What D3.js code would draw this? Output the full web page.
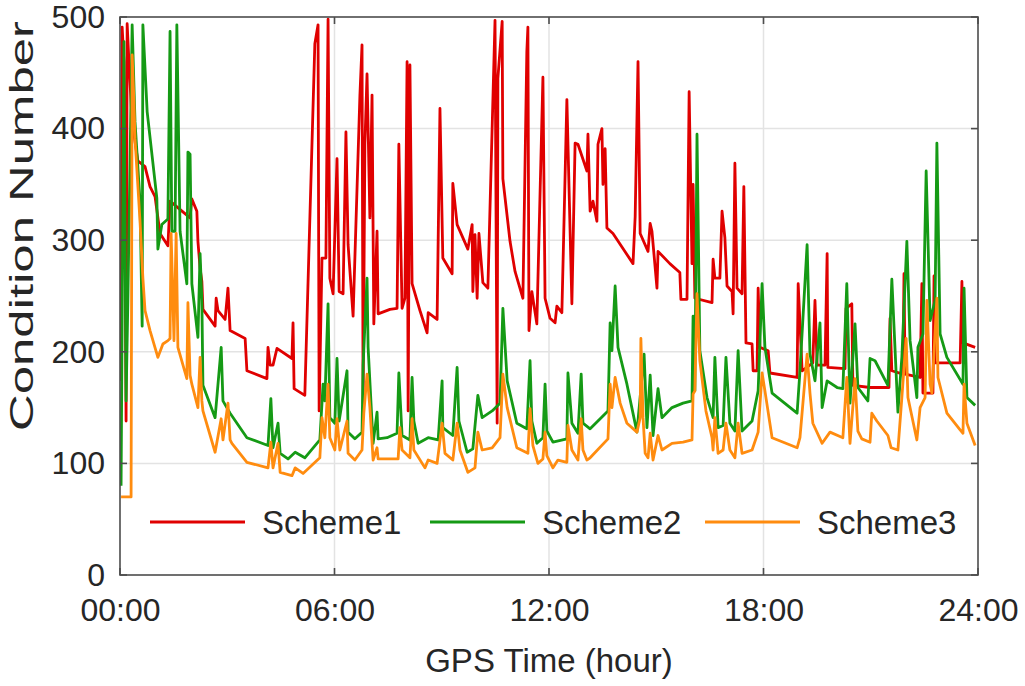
<!DOCTYPE html>
<html>
<head>
<meta charset="utf-8">
<script src="https://cdn.jsdelivr.net/npm/d3@7"></script>
<style>
  body { margin: 0; background: #fff; }
  svg text { font-family: "Liberation Sans", Arial, Helvetica, sans-serif; fill: #262626; }
</style>
</head>
<body>
<div id="chart"></div>
<script>
(function () {

    // series: [hour, condition number]
    var scheme1 = [
        [0.03,174],[0.06,491],[0.11,460],[0.17,138],[0.20,494],[0.25,460],[0.34,406],[0.50,371],[0.70,366],
        [0.84,348],[0.98,339],[1.12,306],[1.34,295],[1.40,335],[1.96,320],[2.01,337],[2.15,326],[2.18,299],
        [2.24,275],[2.29,263],[2.32,238],[2.66,223],[2.69,248],[2.74,237],[2.94,229],[2.99,246],[3.02,257],
        [3.08,219],[3.50,212],[3.55,183],[4.11,176],[4.14,204],[4.20,188],[4.28,188],[4.39,203],[4.81,194],
        [4.84,226],[4.87,167],[5.17,161],[5.45,476],[5.54,493],[5.57,147],[5.65,284],[5.76,284],[5.82,498],
        [5.87,266],[5.96,252],[6.07,373],[6.13,254],[6.24,252],[6.32,397],[6.38,296],[6.52,232],[6.71,429],
        [6.77,475],[6.80,154],[6.85,386],[6.91,449],[6.99,320],[7.05,430],[7.10,225],[7.19,308],[7.22,234],
        [7.55,238],[7.75,239],[7.80,386],[7.89,239],[7.97,248],[8.03,460],[8.06,147],[8.11,457],[8.17,261],
        [8.39,237],[8.59,217],[8.62,235],[8.87,229],[8.95,418],[9.03,284],[9.29,270],[9.31,351],[9.43,314],
        [9.73,292],[9.85,314],[9.87,254],[9.93,305],[9.99,248],[10.04,306],[10.15,262],[10.29,257],[10.49,497],
        [10.55,136],[10.57,445],[10.69,496],[10.71,355],[10.91,299],[11.05,272],[11.27,248],[11.38,469],
        [11.41,491],[11.44,219],[11.52,254],[11.66,225],[11.83,446],[11.89,248],[12.03,230],[12.17,226],
        [12.22,241],[12.36,235],[12.50,426],[12.64,243],[12.73,387],[12.81,386],[13.06,362],[13.09,395],
        [13.15,326],[13.23,335],[13.34,317],[13.37,386],[13.48,400],[13.51,350],[13.57,382],[13.62,311],
        [13.79,306],[14.35,279],[14.41,321],[14.49,460],[14.55,306],[14.77,290],[14.83,315],[14.88,308],
        [15.02,257],[15.05,290],[15.38,279],[15.66,271],[15.69,247],[15.86,247],[15.92,433],[16.00,279],
        [16.03,350],[16.08,248],[16.56,244],[16.59,283],[16.64,266],[16.78,266],[16.84,326],[16.92,302],
        [16.98,259],[17.12,254],[17.15,234],[17.20,369],[17.26,257],[17.40,252],[17.45,348],[17.51,208],
        [17.68,207],[17.71,183],[17.82,183],[17.85,257],[17.90,204],[18.13,201],[18.18,181],[18.94,177],
        [18.97,261],[19.08,183],[19.38,190],[19.44,246],[19.50,188],[19.72,188],[19.78,288],[19.80,186],
        [20.28,185],[20.31,239],[20.47,243],[20.50,170],[20.98,168],[21.51,168],[21.54,230],[21.59,183],
        [21.90,180],[21.93,270],[21.96,180],[22.38,177],[22.43,261],[22.46,163],[22.74,163],[22.77,268],
        [22.80,190],[23.50,190],[23.55,263],[23.58,208],[23.92,204]
    ];

    var scheme2 = [
        [0.03,80],[0.11,478],[0.17,156],[0.22,246],[0.34,493],[0.42,406],[0.56,335],[0.62,223],[0.64,493],
        [0.76,415],[1.03,338],[1.06,292],[1.17,314],[1.34,319],[1.40,487],[1.45,308],[1.54,308],[1.59,493],
        [1.68,308],[1.87,261],[1.90,379],[1.96,377],[2.01,261],[2.18,213],[2.24,288],[2.29,246],[2.32,170],
        [2.66,141],[2.83,204],[2.88,156],[3.08,145],[3.55,123],[4.14,116],[4.22,158],[4.28,114],[4.42,136],
        [4.48,109],[4.70,104],[4.90,110],[5.17,105],[5.59,121],[5.68,171],[5.73,156],[5.82,243],[5.87,141],
        [6.01,136],[6.07,194],[6.13,138],[6.35,183],[6.38,128],[6.57,122],[6.77,128],[6.80,188],[6.91,266],
        [6.94,204],[7.08,118],[7.19,146],[7.22,122],[7.47,123],[7.75,127],[7.80,181],[7.89,125],[8.11,121],
        [8.17,177],[8.22,138],[8.34,118],[8.62,123],[8.90,121],[9.01,174],[9.03,132],[9.31,125],[9.43,186],
        [9.48,138],[9.71,110],[9.87,113],[10.01,161],[10.13,141],[10.41,147],[10.63,154],[10.71,239],
        [10.83,174],[11.10,136],[11.38,131],[11.47,192],[11.52,138],[11.66,118],[11.83,123],[11.89,171],
        [11.94,129],[12.11,119],[12.50,122],[12.53,181],[12.64,136],[12.81,127],[12.90,180],[12.95,136],
        [13.15,131],[13.65,147],[13.71,226],[13.76,201],[13.85,259],[13.93,204],[14.18,171],[14.46,128],
        [14.66,198],[14.74,132],[14.83,179],[14.91,125],[15.05,167],[15.16,141],[15.44,150],[15.75,154],
        [16.00,156],[16.03,232],[16.08,165],[16.14,395],[16.22,201],[16.42,159],[16.59,141],[16.64,195],
        [16.73,132],[16.87,134],[16.95,195],[17.06,136],[17.20,129],[17.29,201],[17.40,129],[17.68,138],
        [17.85,165],[17.96,261],[18.04,204],[18.24,163],[18.94,145],[19.02,183],[19.22,296],[19.30,198],
        [19.44,174],[19.58,226],[19.64,150],[19.78,174],[20.06,168],[20.22,167],[20.33,261],[20.42,154],
        [20.56,225],[20.64,168],[20.92,156],[20.98,194],[21.12,192],[21.48,170],[21.59,265],[21.76,146],
        [21.87,195],[22.01,299],[22.10,210],[22.29,159],[22.32,204],[22.46,216],[22.55,362],[22.66,228],
        [22.80,246],[22.85,387],[22.94,216],[23.13,195],[23.58,171],[23.61,257],[23.69,159],[23.92,152]
    ];

    var scheme3 = [
        [0.03,70],[0.31,70],[0.34,466],[0.39,424],[0.42,391],[0.56,317],[0.64,266],[0.70,237],[0.84,219],
        [1.06,195],[1.20,207],[1.34,210],[1.40,212],[1.43,306],[1.51,210],[1.57,306],[1.62,204],[1.87,176],
        [1.90,244],[1.96,179],[2.01,171],[2.18,150],[2.24,195],[2.29,156],[2.32,147],[2.66,110],[2.83,140],
        [2.88,121],[3.02,154],[3.08,121],[3.13,118],[3.55,101],[4.14,96],[4.22,119],[4.28,96],[4.42,118],
        [4.48,92],[4.81,89],[4.90,96],[5.12,91],[5.59,105],[5.65,141],[5.73,123],[5.82,171],[5.87,123],
        [6.01,112],[6.07,140],[6.15,112],[6.35,138],[6.38,109],[6.57,103],[6.77,112],[6.82,145],[6.91,180],
        [6.99,150],[7.08,103],[7.19,114],[7.22,104],[7.78,104],[7.83,132],[7.89,112],[8.11,105],[8.17,140],
        [8.22,112],[8.53,96],[8.62,103],[8.87,100],[9.01,136],[9.09,109],[9.31,103],[9.43,136],[9.51,112],
        [9.73,92],[9.93,96],[10.01,128],[10.13,112],[10.41,114],[10.63,123],[10.71,180],[10.83,150],
        [11.10,114],[11.41,109],[11.47,149],[11.55,116],[11.69,100],[11.83,104],[11.89,128],[11.94,107],
        [12.11,96],[12.25,103],[12.50,101],[12.53,134],[12.64,112],[12.81,103],[12.90,140],[12.95,112],
        [13.06,103],[13.15,105],[13.65,122],[13.71,171],[13.76,150],[13.85,177],[13.99,154],[14.18,136],
        [14.46,128],[14.55,141],[14.57,212],[14.63,141],[14.69,109],[14.77,105],[14.83,127],[14.91,103],
        [15.05,125],[15.16,112],[15.44,118],[15.75,119],[16.00,121],[16.03,162],[16.08,165],[16.14,252],
        [16.22,192],[16.39,147],[16.56,123],[16.59,112],[16.64,141],[16.73,109],[16.87,112],[16.95,136],
        [17.06,112],[17.20,105],[17.29,136],[17.40,109],[17.68,112],[17.85,128],[17.96,181],[18.04,165],
        [18.24,123],[18.94,114],[19.02,123],[19.22,198],[19.30,163],[19.38,136],[19.64,118],[19.86,128],
        [20.22,123],[20.33,177],[20.42,118],[20.56,176],[20.64,129],[20.75,122],[20.98,119],[21.03,145],
        [21.17,138],[21.48,125],[21.57,114],[21.76,112],[21.87,159],[21.99,212],[22.04,159],[22.29,121],
        [22.38,150],[22.52,159],[22.57,246],[22.66,171],[22.71,163],[22.85,248],[22.88,177],[23.13,145],
        [23.50,130],[23.58,127],[23.61,171],[23.69,136],[23.92,116]
    ];

    var seriesNames = ["Scheme1", "Scheme2", "Scheme3"];
    var seriesColors = ["#e00000", "#159a15", "#ff8c0f"];
    var xTicks = [0, 6, 12, 18, 24];
    var yTicks = [0, 100, 200, 300, 400, 500];

    var width = 1025, height = 686;
    var left = 120, right = 978, top = 17, bottom = 575;

    var x = d3.scaleLinear().domain([0, 24]).range([left, right]);
    var y = d3.scaleLinear().domain([0, 500]).range([bottom, top]);

    var svg = d3.select("#chart").append("svg")
        .attr("width", width).attr("height", height);

    svg.append("defs").append("clipPath").attr("id", "plotclip")
        .append("rect").attr("x", left).attr("y", top)
        .attr("width", right - left).attr("height", bottom - top);

    // grid
    var grid = svg.append("g");
    grid.selectAll(".gx").data(xTicks.slice(1, -1)).enter().append("line")
        .attr("x1", d => x(d)).attr("x2", d => x(d))
        .attr("y1", top).attr("y2", bottom)
        .attr("stroke", "#e3e3e3").attr("stroke-width", 1.5);
    grid.selectAll(".gy").data(yTicks.slice(1, -1)).enter().append("line")
        .attr("x1", left).attr("x2", right)
        .attr("y1", d => y(d)).attr("y2", d => y(d))
        .attr("stroke", "#e3e3e3").attr("stroke-width", 1.5);

    // lines
    var line = d3.line().x(d => x(d[0])).y(d => y(d[1]));
    var plot = svg.append("g").attr("clip-path", "url(#plotclip)");
    [scheme1, scheme2, scheme3].forEach(function (s, i) {
        plot.append("path")
            .attr("d", line(s))
            .attr("fill", "none")
            .attr("stroke", seriesColors[i])
            .attr("stroke-width", 2.8)
            .attr("stroke-linejoin", "round");
    });

    // axes (labels only, MATLAB style inner ticks drawn below)
    var fmt = d => String(d).padStart(2, "0") + ":00";
    var xAxis = svg.append("g").attr("transform", "translate(0," + bottom + ")")
        .call(d3.axisBottom(x).tickValues(xTicks).tickFormat(fmt).tickSize(0).tickPadding(23));
    var yAxis = svg.append("g").attr("transform", "translate(" + left + ",0)")
        .call(d3.axisLeft(y).tickValues(yTicks).tickSize(0).tickPadding(15));
    [xAxis, yAxis].forEach(function (a) {
        a.select(".domain").remove();
        a.selectAll("text").attr("font-size", 32).attr("fill", "#262626")
            .attr("font-family", "'Liberation Sans', Arial, sans-serif");
    });

    // box + inward ticks
    var box = svg.append("g").attr("stroke", "#4d4d4d").attr("stroke-width", 1.6);
    box.append("rect").attr("x", left).attr("y", top)
        .attr("width", right - left).attr("height", bottom - top).attr("fill", "none");
    var tl = 7;
    xTicks.forEach(function (d) {
        box.append("line").attr("x1", x(d)).attr("x2", x(d)).attr("y1", bottom).attr("y2", bottom - tl);
        box.append("line").attr("x1", x(d)).attr("x2", x(d)).attr("y1", top).attr("y2", top + tl);
    });
    yTicks.forEach(function (d) {
        box.append("line").attr("x1", left).attr("x2", left + tl).attr("y1", y(d)).attr("y2", y(d));
        box.append("line").attr("x1", right).attr("x2", right - tl).attr("y1", y(d)).attr("y2", y(d));
    });

    // axis titles
    svg.append("text")
        .attr("x", (left + right) / 2).attr("y", 672)
        .attr("text-anchor", "middle").attr("font-size", 33)
        .text("GPS Time (hour)");
    svg.append("text")
        .attr("transform", "translate(33," + 226 + ") rotate(-90)")
        .attr("text-anchor", "middle").attr("font-size", 33)
        .attr("textLength", 410).attr("lengthAdjust", "spacingAndGlyphs")
        .text("Condition Number");

    // legend
    var legendX = [150, 430, 705];
    var legendY = 522;
    var leg = svg.append("g");
    seriesNames.forEach(function (n, i) {
        leg.append("line")
            .attr("x1", legendX[i]).attr("x2", legendX[i] + 95)
            .attr("y1", legendY).attr("y2", legendY)
            .attr("stroke", seriesColors[i]).attr("stroke-width", 2.8);
        leg.append("text")
            .attr("x", legendX[i] + 112).attr("y", legendY + 12)
            .attr("font-size", 33).text(n);
    });
})();
</script>
</body>
</html>
